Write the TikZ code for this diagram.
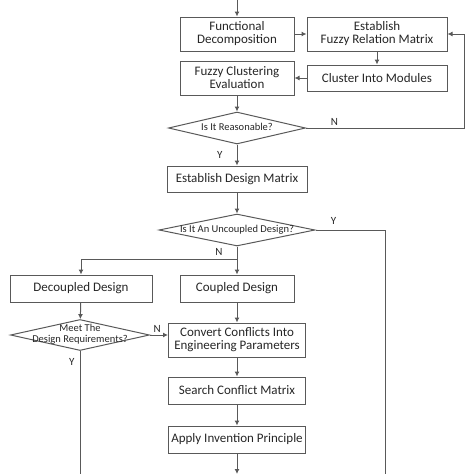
\documentclass[tikz,border=0pt]{standalone}
\usepackage{fontspec}
\setmainfont{Carlito}
\usetikzlibrary{positioning,arrows.meta,shapes.geometric}
\tikzset{
  blk/.style={rectangle, draw=black!65, line width=1pt, text=black!85, align=center,
              inner sep=1pt, font=\fontsize{13}{13}\selectfont},
  blkn/.style={blk, minimum width=114pt},
  blkw/.style={blk, minimum width=140pt},
  dec/.style={diamond, aspect=4, draw=black!65, line width=1pt, text=black!85,
              inner sep=0pt, font=\fontsize{10.5}{11}\selectfont},
  flowarr/.style={-{Latex[length=5pt,width=5pt]}, draw=black!65, line width=1pt},
  flowln/.style={draw=black!65, line width=1pt},
  yn/.style={font=\fontsize{11}{11}\selectfont, text=black!85, inner sep=2pt},
}
\newcommand{\dtext}[1]{\makebox[0pt]{\begin{tabular}{@{}c@{}}#1\end{tabular}}}

\begin{document}
\begin{tikzpicture}[x=1pt, y=-1pt]
\useasboundingbox (0,0) rectangle (474,474);
% modular design part
\coordinate (start) at (237,0);
\node[blkn, minimum height=34pt] (fd) at (237,34) {Functional\\ Decomposition};
\node[blkw, minimum height=34pt] (efrm) at (377,34) {Establish\\ Fuzzy Relation Matrix};
\node[blkw, minimum height=26pt] (cim) at (377,78) {Cluster Into Modules};
\node[blkn, minimum height=34pt] (fce) at (237,78) {Fuzzy Clustering\\ Evaluation};
\node[dec, minimum width=137pt, minimum height=32pt] (dr) at (237,128) {\dtext{Is It Reasonable?}};
\coordinate (rret) at (464,128);
\foreach \a/\b in {start/fd,fd/efrm,efrm/cim,cim/fce,fce/dr}
  \draw[flowarr] (\a) -- (\b);
\draw[flowarr] (dr.east) -- node[yn, above, pos=0.18]{N} (rret) |- (efrm.east);
% axiomatic design part
\node[blkw, minimum height=26pt] (edm) at (237,179) {Establish Design Matrix};
\node[dec, minimum width=156pt, minimum height=32pt] (du) at (237,230) {\dtext{Is It An Uncoupled Design?}};
\coordinate (ucorner) at (385,230);
\coordinate (uend) at (385,474);
\coordinate (split) at (237,259);
\node[blk, minimum width=142pt, minimum height=27pt] (dd) at (81,288.5) {Decoupled Design};
\node[blkn, minimum height=27pt] (cd) at (237,288.5) {Coupled Design};
\node[dec, minimum width=139pt, minimum height=31pt] (dm) at (80,335) {\dtext{Meet The\\ Design Requirements?}};
\coordinate (dend) at (80,474);
\draw[flowarr] (dr) -- node[yn, left=12pt]{Y} (edm);
\draw[flowarr] (edm) -- (du);
\draw[flowln] (du.east) -- node[yn, above=3pt, pos=0.26]{Y} (ucorner) -- (uend);
\draw[flowln] (du.south) -- node[yn, left=12pt, pos=0.4]{N} (split);
\draw[flowarr] (split) -- (cd);
\draw[flowarr] (split) -| (dd);
\draw[flowarr] (dd) -- (dm);
\draw[flowln] (dm.south) -- node[yn, left=3pt, pos=0.09]{Y} (dend);
% TRIZ part
\node[blk, minimum width=137pt, minimum height=34pt] (ccp) at (237,340) {Convert Conflicts Into\\ Engineering Parameters};
\node[blk, minimum width=137pt, minimum height=27pt] (scm) at (237,390.5) {Search Conflict Matrix};
\node[blk, minimum width=137pt, minimum height=27pt] (aip) at (237,439.5) {Apply Invention Principle};
\coordinate (next) at (237,474);
\draw[flowarr] (dm.east) -- node[yn, above, pos=0.4]{N} (dm.east -| ccp.west);
\foreach \a/\b in {cd/ccp,ccp/scm,scm/aip,aip/next}
  \draw[flowarr] (\a) -- (\b);
\end{tikzpicture}
\end{document}
